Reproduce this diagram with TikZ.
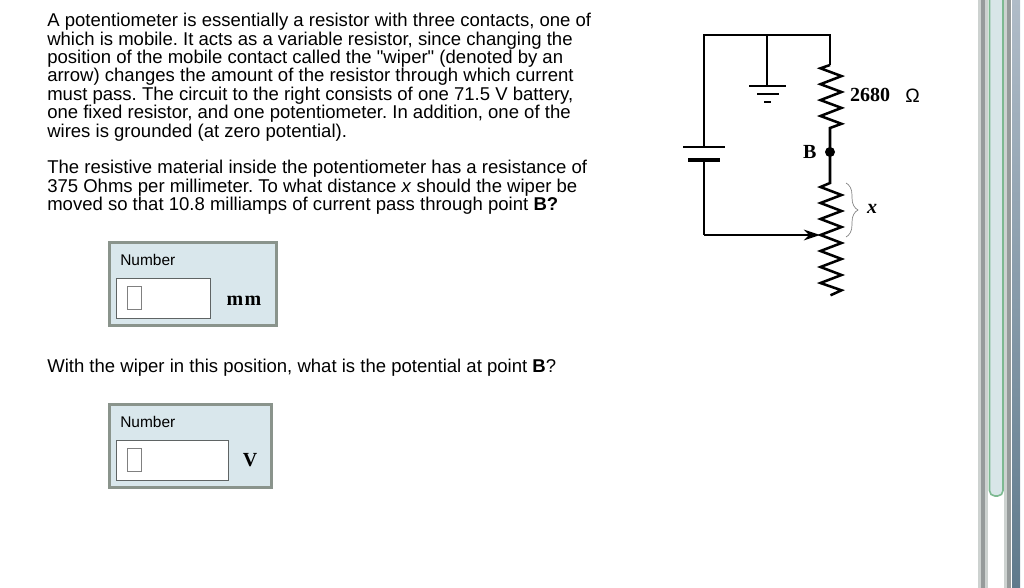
\documentclass[tikz,border=0pt]{standalone}
\usepackage{xcolor}
\usepackage{fontspec}
\setmainfont{Liberation Sans}[Ligatures=TeXOff]
\newfontfamily\serifbold{Liberation Serif}
\usetikzlibrary{arrows.meta, positioning, decorations.pathreplacing}
\definecolor{panelfill}{RGB}{217,231,236}
\definecolor{panelline}{RGB}{138,148,140}
\definecolor{fieldline}{RGB}{95,100,100}
\definecolor{barfill}{RGB}{216,230,232}
\definecolor{bargreen}{RGB}{125,185,145}
\definecolor{bargray}{RGB}{150,155,155}
\definecolor{barlight}{RGB}{205,210,208}
\definecolor{barblue}{RGB}{176,188,200}
\definecolor{bardark}{RGB}{95,122,140}
\tikzset{
  para/.style={anchor=north west, align=left, inner sep=0pt, font=\fontsize{13.9pt}{13.8pt}\selectfont},
  wire/.style={line width=1.9pt, line join=miter},
  panel/.style={draw=panelline, line width=2.4pt, fill=panelfill},
  field/.style={draw=fieldline, line width=0.7pt, fill=white, inner sep=0pt},
  cursorbox/.style={draw=gray, line width=0.6pt, fill=white, inner sep=0pt, minimum width=11pt, minimum height=17pt},
  numlabel/.style={anchor=west, inner sep=0pt, font=\fontsize{11.6pt}{13pt}\selectfont},
  valuelabel/.style={inner sep=0pt, font=\fontsize{15pt}{15pt}\serifbold\bfseries},
  junction/.style={circle, fill=black, inner sep=0pt, minimum size=7.5pt},
}
\tikzstyle{arrow} = [wire,-{Stealth[length=12pt,width=8pt]}]
\begin{document}
\frenchspacing
\begin{tikzpicture}[x=0.75pt,y=-0.75pt]
  \useasboundingbox (0,0) rectangle (1024,588);
  \node[para] (intro) at (47,13) {A potentiometer is essentially a resistor with three contacts, one of\\
    which is mobile. It acts as a variable resistor, since changing the\\
    position of the mobile contact called the "wiper" (denoted by an\\
    arrow) changes the amount of the resistor through which current\\
    must pass. The circuit to the right consists of one 71.5 V battery,\\
    one fixed resistor, and one potentiometer. In addition, one of the\\
    wires is grounded (at zero potential).};
  \node[para] (task) at (47,160) {The resistive material inside the potentiometer has a resistance of\\
    375 Ohms per millimeter. To what distance \textit{x} should the wiper be\\
    moved so that 10.8 milliamps of current pass through point \textbf{B?}};
  \node[para] (second) at (47,359) {With the wiper in this position, what is the potential at point \textbf{B}?};

  \draw[panel] (109.5,242.5) rectangle (276.5,325.5);
  \node[numlabel] (numa) at (120,260) {Number};
  \node[field, minimum width=71pt, minimum height=30pt] (fielda) at (163.5,298) {};
  \node[cursorbox] (cura) at (134.5,298) {};
  \node[valuelabel, font=\fontsize{15pt}{15pt}\serifbold\bfseries\addfontfeature{LetterSpace=6}] (unita) at (244,300.5) {mm};

  \draw[panel] (109.5,404.5) rectangle (271.5,487.5);
  \node[numlabel] (numb) at (120,422) {Number};
  \node[field, minimum width=84pt, minimum height=30pt] (fieldb) at (172,460) {};
  \node[cursorbox] (curb) at (134.5,460) {};
  \node[valuelabel] (unitb) at (250,460) {V};

  \coordinate (topleft) at (704,35);
  \coordinate (topright) at (830,35);
  \coordinate (gndtop) at (767,35);
  \coordinate (gndplate) at (767,86);
  \coordinate (batplus) at (704,147);
  \coordinate (batminus) at (704,160);
  \coordinate (wiperleft) at (704,235);
  \coordinate (wiper) at (820,235);
  \coordinate (fixedtop) at (830,65);
  \coordinate (fixedend) at (830,128);
  \coordinate (pottop) at (830,183);

  \draw[wire] (batplus) -- (topleft) -- (topright) -- (fixedtop);
  \draw[wire] (gndtop) -- (gndplate);
  \draw[wire] (749,86) -- (786,86);
  \draw[wire] (757,94) -- (779,94);
  \draw[wire] (764,102) -- (771,102);
  \draw[wire] (683,147) -- (725,147);
  \draw[line width=3.6pt] (688,160) -- (720,160);
  \draw[wire] (batminus) -- (wiperleft);
  \draw[arrow] (wiperleft) -- (wiper);

  \draw[wire] (fixedtop) -- ++(-9.5,3.3)
    -- ++(21,7.8) -- ++(-21,8.1) -- ++(21,7.8) -- ++(-21,8.1) -- ++(21,7.8) -- ++(-21,8.1) -- ++(21,7.8)
    -- (fixedend) -- (pottop) -- ++(-9.5,4)
    -- ++(21,8) -- ++(-21,8) -- ++(21,8) -- ++(-21,8) -- ++(21,8) -- ++(-21,8)
    -- ++(21,8) -- ++(-21,8) -- ++(21,8) -- ++(-21,8) -- ++(21,8) -- ++(-21,8) -- ++(21,7.3) -- ++(-11,5);
  \node[junction] (B) at (830,152) {};

  \draw[gray, line width=0.5pt, decorate, decoration={brace, amplitude=9pt}] (846,183) -- (846,237);

  \node[valuelabel] (rval) at (870,95) {2680};
  \node[inner sep=0pt, font=\fontsize{14.5pt}{15pt}\selectfont] (runit) at (912.5,96) {Ω};
  \node[valuelabel, left=6pt of B] (Blabel) {B};
  \node[valuelabel, font=\fontsize{15pt}{15pt}\serifbold\bfseries\itshape] (xlabel) at (872,209) {x};

  \fill[barlight] (978,0) rectangle (981,588);
  \fill[bargray] (981,0) rectangle (985,588);
  \fill[barlight] (985,0) rectangle (988,588);
  \draw[bargreen, line width=1.2pt, fill=barfill, rounded corners=4pt] (989.5,-10) rectangle (1003,496);
  \fill[barlight] (1004,0) rectangle (1007,588);
  \fill[bargray] (1007,0) rectangle (1011,588);
  \shade[top color=barblue, bottom color=bardark] (1012,0) rectangle (1020,588);
\end{tikzpicture}
\end{document}
